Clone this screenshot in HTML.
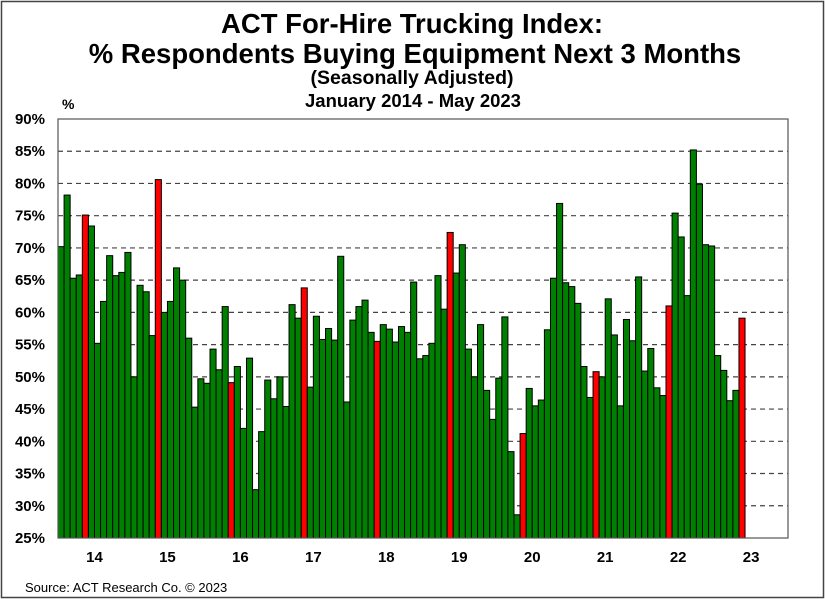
<!DOCTYPE html>
<html><head><meta charset="utf-8"><style>
html,body{margin:0;padding:0;background:#fff;}
svg{display:block;font-family:"Liberation Sans",Arial,sans-serif;}
</style></head><body>
<svg id="s" width="825" height="599" xmlns="http://www.w3.org/2000/svg">
<rect x="1.5" y="1.5" width="822" height="596" fill="#fff" stroke="#444" stroke-width="1.5"/>
<text x="412" y="33" text-anchor="middle" font-weight="bold" font-size="27.5">ACT For-Hire Trucking Index:</text>
<text x="415" y="63" text-anchor="middle" font-weight="bold" font-size="27.5">% Respondents Buying Equipment Next 3 Months</text>
<text x="412" y="84" text-anchor="middle" font-weight="bold" font-size="19.5">(Seasonally Adjusted)</text>
<text x="413" y="107" text-anchor="middle" font-weight="bold" font-size="18.5">January  2014 - May 2023</text>
<text x="62" y="109" font-weight="bold" font-size="14">%</text>
<g id="grid"></g>
<g id="bars"></g>
<rect x="58" y="119" width="730" height="419" fill="none" stroke="#555" stroke-width="1.2"/>
<text x="25" y="592" font-size="13">Source: ACT Research Co. © 2023</text>
</svg>
<script>
var v=[70.2,78.2,65.3,65.8,75.1,73.4,55.2,61.7,68.8,65.7,66.2,69.3,50.0,64.2,63.2,56.4,80.6,60,61.7,66.9,65,56,45.3,49.7,49,54.3,51.1,60.9,49.1,51.6,42,52.9,32.5,41.5,49.5,46.6,50,45.4,61.2,59.1,63.8,48.4,59.4,55.8,57.5,55.7,68.7,46.1,58.8,60.9,61.9,56.9,55.5,58.1,57.4,55.4,57.8,56.9,64.7,52.8,53.3,55.2,65.7,60.5,72.4,66.1,70.5,54.3,50,58.1,47.9,43.4,49.8,59.3,38.4,28.6,41.2,48.2,45.5,46.4,57.3,65.3,76.9,64.6,64,61.4,51.6,46.8,50.8,50,62.1,56.5,45.5,58.9,55.6,65.5,50.9,54.4,48.3,47.1,61,75.4,71.7,62.6,85.2,79.9,70.5,70.3,53.3,51,46.3,47.9,59.1];
var ns="http://www.w3.org/2000/svg";
function Y(p){return 119+(90-p)*6.446;}
var g=document.getElementById('grid'),b=document.getElementById('bars'),s=document.getElementById('s');
function el(t,a,par){var e=document.createElementNS(ns,t);for(var k in a)e.setAttribute(k,a[k]);par.appendChild(e);return e;}
for(var p=25;p<=90;p+=5){var y=Y(p);
 if(p>25&&p<90)el('line',{x1:58,x2:788,y1:y,y2:y,stroke:'#444','stroke-width':1.2,'stroke-dasharray':'5,4'},g);
 var t=el('text',{x:45,y:y+5,'text-anchor':'end','font-weight':'bold','font-size':15},s);t.textContent=p+'%';}
var w=6.08;
for(var i=0;i<v.length;i++){var x=58+i*w,y=Y(v[i]);
 el('rect',{x:x,y:y,width:w,height:538-y,fill:(i%12==4)?'#ff0000':'#008000',stroke:'#000','stroke-width':1},b);}
for(var k=0;k<10;k++){var t=el('text',{x:58+k*12*w+6*w,y:562,'text-anchor':'middle','font-weight':'bold','font-size':15},s);t.textContent=(14+k);}
</script>
</body></html>
